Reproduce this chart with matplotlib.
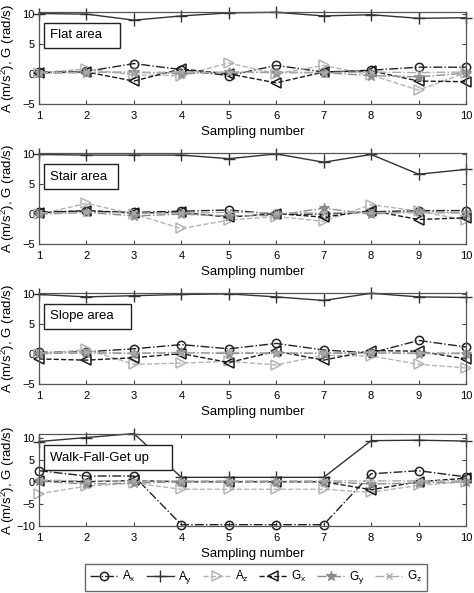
import matplotlib
matplotlib.use("Agg")
import matplotlib.pyplot as plt
from matplotlib.patches import Rectangle

plt.rcParams['font.family'] = ['Liberation Sans', 'DejaVu Sans']
plt.rcParams['mathtext.fontset'] = 'custom'
plt.rcParams['mathtext.rm'] = 'Liberation Sans'
plt.rcParams['mathtext.it'] = 'Liberation Sans'

samples = list(range(1, 11))
panel_titles = ["Flat area", "Stair area", "Slope area", "Walk-Fall-Get up"]
series_names = ["Ax", "Ay", "Az", "Gx", "Gy", "Gz"]
legend_labels = [r"A$_\mathrm{x}$", r"A$_\mathrm{y}$", r"A$_\mathrm{z}$",
                 r"G$_\mathrm{x}$", r"G$_\mathrm{y}$", r"G$_\mathrm{z}$"]

# Flat area
flat_Ax = [0.3, 0.4, 1.7, 0.7, -0.3, 1.4, 0.3, 0.6, 1.1, 1.1]
flat_Ay = [10.0, 9.9, 8.9, 9.6, 10.1, 10.2, 9.6, 9.8, 9.2, 9.3]
flat_Az = [0.2, 0.8, -0.2, -0.3, 1.8, 0.0, 1.4, -0.2, -2.7, 0.2]
flat_Gx = [0.2, 0.3, -1.2, 0.8, 0.0, -1.5, 0.3, 0.5, -1.2, -1.3]
flat_Gy = [0.1, 0.2, 0.3, 0.0, 0.3, 0.2, 0.2, -0.3, -0.5, 0.1]
flat_Gz = [0.2, 0.3, 0.2, 0.3, 0.2, 0.3, 0.2, 0.3, 0.2, 0.3]

# Stair area
stair_Ax = [0.4, 0.5, 0.3, 0.5, 0.7, 0.0, 0.0, 0.4, 0.6, 0.6]
stair_Ay = [10.0, 9.9, 9.9, 9.9, 9.3, 10.1, 8.7, 10.0, 6.7, 7.5]
stair_Az = [0.0, 1.8, 0.0, -2.4, -1.0, -0.4, -1.2, 1.6, 0.5, -1.0]
stair_Gx = [0.2, 0.6, 0.2, 0.3, -0.5, 0.1, -0.5, 0.6, -0.9, -0.6]
stair_Gy = [0.0, 0.3, -0.3, 0.0, -0.3, -0.2, 1.0, 0.0, 0.5, 0.2]
stair_Gz = [0.2, 0.3, 0.2, 0.2, 0.3, 0.2, 0.2, 0.3, 0.2, 0.2]

# Slope area
slope_Ax = [0.3, 0.4, 0.9, 1.6, 0.9, 1.8, 0.7, 0.2, 2.3, 1.2]
slope_Ay = [10.0, 9.6, 9.8, 10.0, 10.1, 9.6, 9.0, 10.2, 9.6, 9.5]
slope_Az = [0.0, 0.8, -1.7, -1.5, -1.2, -1.8, -0.2, -0.3, -1.7, -2.3]
slope_Gx = [-0.8, -1.0, -0.6, 0.1, -1.4, 0.5, -1.0, 0.6, 0.5, -0.8]
slope_Gy = [0.1, 0.2, 0.1, 0.3, 0.1, 0.2, 0.1, 0.2, 0.1, 0.1]
slope_Gz = [0.2, 0.3, 0.2, 0.2, 0.3, 0.2, 0.2, 0.3, 0.2, 0.2]

# Walk-Fall-Get up
wfg_Ax = [2.5, 1.3, 1.3, -9.7, -9.7, -9.7, -9.7, 1.8, 2.5, 1.1]
wfg_Ay = [9.1, 10.0, 10.9, 1.0, 1.0, 1.0, 1.0, 9.3, 9.4, 9.2]
wfg_Az = [-2.7, -1.0, -0.3, -1.7, -1.7, -1.7, -1.7, -2.4, -0.8, 0.0]
wfg_Gx = [0.2, 0.0, 0.3, 0.0, 0.0, 0.0, 0.0, -1.8, 0.0, 0.8]
wfg_Gy = [0.1, -0.5, -0.3, 0.0, 0.0, 0.0, 0.0, -0.5, -0.3, 0.0]
wfg_Gz = [0.4, 0.2, 0.2, 0.2, 0.2, 0.2, 0.2, 0.2, 0.2, 0.2]

panels = [
    [flat_Ax, flat_Ay, flat_Az, flat_Gx, flat_Gy, flat_Gz],
    [stair_Ax, stair_Ay, stair_Az, stair_Gx, stair_Gy, stair_Gz],
    [slope_Ax, slope_Ay, slope_Az, slope_Gx, slope_Gy, slope_Gz],
    [wfg_Ax, wfg_Ay, wfg_Az, wfg_Gx, wfg_Gy, wfg_Gz],
]
yticks_list = [[-5, 0, 5, 10], [-5, 0, 5, 10], [-5, 0, 5, 10], [-10, -5, 0, 5, 10]]
ylims = [(-5, 10.25), (-5, 10.25), (-5, 10.25), (-10, 10.8)]

styles = [
    dict(color='#222222', ls='-.', marker='o', mfc='none', ms=6, mew=1.1),
    dict(color='#333333', ls='-', marker='+', ms=8, mew=1.0),
    dict(color='#b4b4b4', ls='--', marker='>', mfc='none', ms=7, mew=1.1),
    dict(color='#1a1a1a', ls='--', marker='<', mfc='none', ms=7, mew=1.1),
    dict(color='#8c8c8c', ls='-.', marker='*', ms=7, mew=0.8),
    dict(color='#aaaaaa', ls='-.', marker='x', ms=5, mew=1.0),
]

W, H = 474, 593
fig = plt.figure(figsize=(W / 100, H / 100), dpi=100)

# axes boxes in pixels: (left, top, right, bottom)
boxes = [(39, 12, 466, 104), (39, 153, 466, 244), (39, 293, 466, 384), (39, 434, 466, 526)]
label_box_w = [76, 74, 87, 128]

handles = None
for i, (l, t, r, b) in enumerate(boxes):
    ax = fig.add_axes([l / W, 1 - b / H, (r - l) / W, (b - t) / H])
    hs = []
    for data, st in zip(panels[i], styles):
        h, = ax.plot(samples, data, lw=1.0, clip_on=False, **st)
        hs.append(h)
    handles = hs
    ax.set_xlim(1, 10)
    ax.set_ylim(*ylims[i])
    ax.set_xticks(samples)
    ax.set_yticks(yticks_list[i])
    ax.tick_params(direction='in', top=True, right=True, labelsize=8, length=3,
                   color='#444444')
    ax.tick_params(axis='x', pad=5)
    ax.tick_params(axis='y', pad=3)
    for sp in ax.spines.values():
        sp.set_color('#555555')
        sp.set_linewidth(0.9)
    ax.set_xlabel("Sampling number", fontsize=9.5, labelpad=4)
    ax.set_ylabel(r"A (m/s$^2$), G (rad/s)", fontsize=9.5)
    ax.yaxis.set_label_coords(-0.052, 0.5)
    # label box
    ph = b - t
    pw = r - l
    bx0 = 5 / pw
    by_top = 1 - 11 / ph
    bh = 25 / ph
    rect = Rectangle((bx0, by_top - bh), label_box_w[i] / pw, bh, transform=ax.transAxes,
                     fc='white', ec='#222222', lw=1.0, zorder=5)
    ax.add_patch(rect)
    ax.text(bx0 + 6 / pw, by_top - bh / 2, panel_titles[i], transform=ax.transAxes,
            fontsize=9.5, va='center', ha='left', zorder=6)

leg = fig.legend(handles, legend_labels, loc='center', ncol=6,
                 bbox_to_anchor=(256 / W, 1 - 577.5 / H), fontsize=8.5,
                 frameon=True, fancybox=False, edgecolor='#444444',
                 handlelength=2.3, handletextpad=0.4, columnspacing=0.9,
                 borderpad=0.4)
leg.get_frame().set_linewidth(1.0)

fig.savefig("out.png", dpi=100)
